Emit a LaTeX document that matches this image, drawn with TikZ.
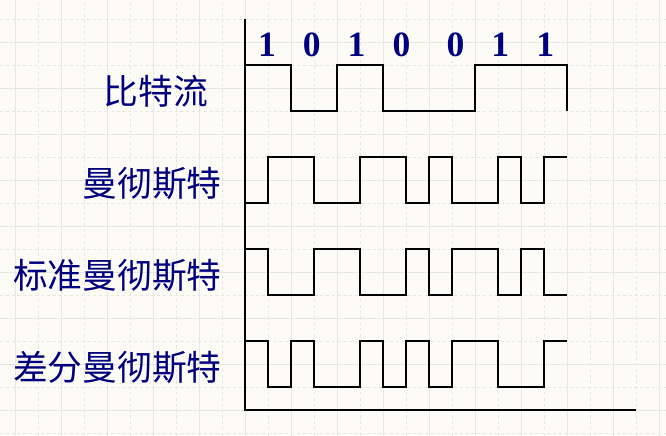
\documentclass[tikz,border=0pt]{standalone}
\usepackage{fontspec}
\setmainfont{Liberation Serif}
\newfontfamily\cjk{Noto Sans CJK SC}

\definecolor{paper}{HTML}{FDFBF6}
\definecolor{gridline}{HTML}{E8E8E1}
\definecolor{navy}{HTML}{00007F}

\tikzset{
    signal/.style={line width=1.2pt},
    signame/.style={anchor=east, inner sep=0pt, text=navy, font=\cjk\fontsize{21.5}{21.5}\selectfont},
    bitval/.style={inner sep=0pt, text=navy, font=\bfseries\fontsize{22}{22}\selectfont}
}

\begin{document}
\begin{tikzpicture}[x=0.5cm,y=0.5cm]
        \fill[paper] (-10.652,-1.13) rectangle (18.304,17.826);
        \useasboundingbox (-10.652,-1.13) rectangle (18.304,17.826);

        % background grid
        \draw[gridline, line width=0.5pt, dash pattern=on 2pt off 1.6pt, step=1] (-10.652,-1.13) grid (18.304,17.826);
        \draw[gridline, line width=0.5pt, step=2] (-10.652,-1.13) grid (18.304,17.826);

        % axes
        \draw[signal] (0,17) -- (0,0) -- (17,0);

        % bits
        \foreach \x/\b [count=\i] in {0.96/1, 2.9/0, 4.85/1, 6.8/0, 9.15/0, 11.1/1, 13.05/1}
            \node[bitval] (b\i) at (\x,15.88) {\b};

        % bit stream
        \draw[signal] (0,15) -- (2,15) -- (2,13) -- (4,13) -- (4,15) -- (6,15) -- (6,13)
            -- (10,13) -- (10,15) -- (14,15) -- (14,13);

        % manchester
        \draw[signal] (0,9) -- (1,9) -- (1,11) -- (3,11) -- (3,9) -- (5,9) -- (5,11) -- (7,11)
            -- (7,9) -- (8,9) -- (8,11) -- (9,11) -- (9,9) -- (11,9) -- (11,11) -- (12,11)
            -- (12,9) -- (13,9) -- (13,11) -- (14,11);

        % standard manchester
        \draw[signal] (0,7) -- (1,7) -- (1,5) -- (3,5) -- (3,7) -- (5,7) -- (5,5) -- (7,5)
            -- (7,7) -- (8,7) -- (8,5) -- (9,5) -- (9,7) -- (11,7) -- (11,5) -- (12,5)
            -- (12,7) -- (13,7) -- (13,5) -- (14,5);

        % differential manchester
        \draw[signal] (0,3) -- (1,3) -- (1,1) -- (2,1) -- (2,3) -- (3,3) -- (3,1) -- (5,1)
            -- (5,3) -- (6,3) -- (6,1) -- (7,1) -- (7,3) -- (8,3) -- (8,1) -- (9,1)
            -- (9,3) -- (11,3) -- (11,1) -- (13,1) -- (13,3) -- (14,3);

        \node[signame] (bitstream) at (-1.6,13.85) {比特流};
        \node[signame] (manch) at (-1,9.85) {曼彻斯特};
        \node[signame] (stdmanch) at (-1,5.85) {标准曼彻斯特};
        \node[signame] (diffmanch) at (-1,1.85) {差分曼彻斯特};
    \end{tikzpicture}
\end{document}
